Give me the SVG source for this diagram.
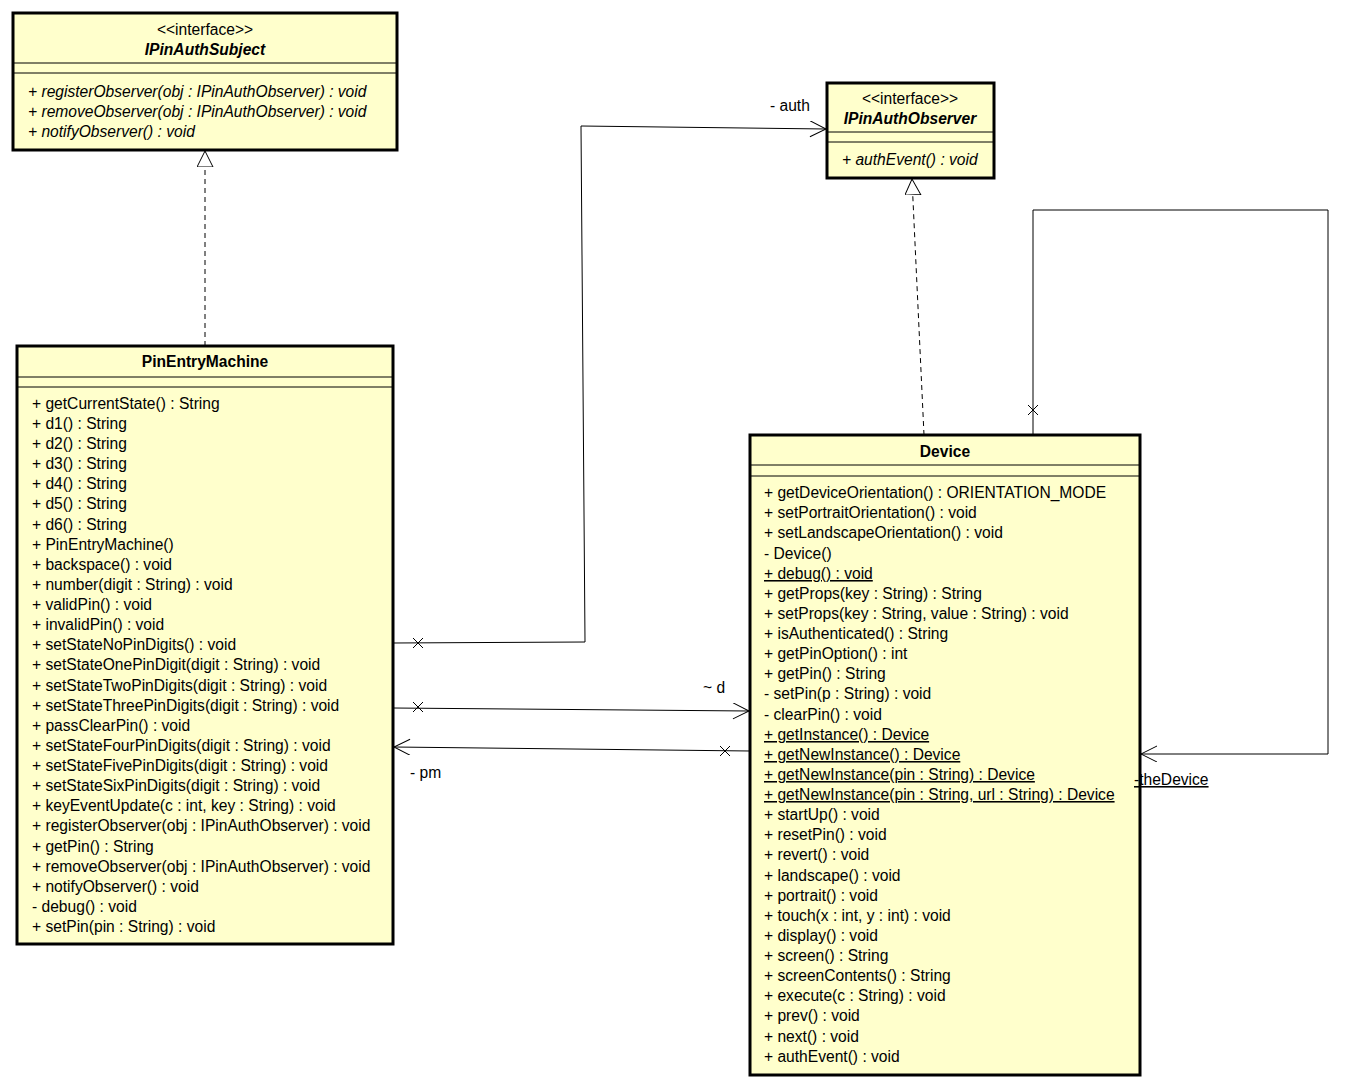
<svg xmlns="http://www.w3.org/2000/svg" width="1349" height="1088" viewBox="0 0 1349 1088">
<style>
.box{fill:#ffffcc;stroke:#000;stroke-width:3}
.sep{stroke:#000;stroke-width:1}
text{font-family:"Liberation Sans",Arial,sans-serif;font-size:15.6px;fill:#000}
.c{text-anchor:middle}
.b{font-weight:bold}
.i{font-style:italic}
.u{text-decoration:underline}
.ln{fill:none;stroke:#000;stroke-width:1}
.d{stroke-dasharray:5,4}
</style>
<defs>
<marker id="open" markerWidth="20" markerHeight="20" refX="18" refY="8" orient="auto" markerUnits="userSpaceOnUse">
<path d="M2,0 L18,8 L2,16" fill="none" stroke="#000" stroke-width="1"/>
</marker>
<marker id="tri" markerWidth="20" markerHeight="20" refX="16" refY="8" orient="auto" markerUnits="userSpaceOnUse">
<path d="M0,0 L16,8 L0,16 Z" fill="#fff" stroke="#000" stroke-width="1"/>
</marker>
</defs>

<g id="connectors">
<path class="ln d" d="M205,346 L205,151" marker-end="url(#tri)"/>
<path class="ln d" d="M924,435 L912,179" marker-end="url(#tri)"/>
<path class="ln" d="M393,643 L585,642 L581,126 L826,129" marker-end="url(#open)"/>
<path class="ln" d="M413,638 L423,648 M423,638 L413,648"/>
<text x="770" y="111">- auth</text>
<path class="ln" d="M393,708 L749,711" marker-end="url(#open)"/>
<path class="ln" d="M413,702 L423,712 M423,702 L413,712"/>
<text x="703" y="693">~ d</text>
<path class="ln" d="M750,751 L394,747" marker-end="url(#open)"/>
<path class="ln" d="M720,746 L730,756 M730,746 L720,756"/>
<text x="410" y="778">- pm</text>
<path class="ln" d="M1033,435 L1033,210 L1328,210 L1328,754 L1141,754" marker-end="url(#open)"/>
<path class="ln" d="M1028,405 L1038,415 M1038,405 L1028,415"/>
</g>

<g id="IPinAuthSubject">
<rect class="box" x="13" y="13" width="384" height="137"/>
<text x="205" y="35" class="c">&lt;&lt;interface&gt;&gt;</text>
<text x="205" y="55" class="c b i">IPinAuthSubject</text>
<line class="sep" x1="13" y1="63" x2="397" y2="63"/>
<line class="sep" x1="13" y1="73" x2="397" y2="73"/>
<text x="28" y="97" class="i">+ registerObserver(obj : IPinAuthObserver) : void</text>
<text x="28" y="117" class="i">+ removeObserver(obj : IPinAuthObserver) : void</text>
<text x="28" y="137" class="i">+ notifyObserver() : void</text>
</g>

<g id="IPinAuthObserver">
<rect class="box" x="827" y="83" width="167" height="95"/>
<text x="910" y="104" class="c">&lt;&lt;interface&gt;&gt;</text>
<text x="910" y="124" class="c b i">IPinAuthObserver</text>
<line class="sep" x1="827" y1="132" x2="994" y2="132"/>
<line class="sep" x1="827" y1="142" x2="994" y2="142"/>
<text x="842" y="165" class="i">+ authEvent() : void</text>
</g>

<g id="PinEntryMachine">
<rect class="box" x="17" y="346" width="376" height="598"/>
<text x="205" y="367" class="c b">PinEntryMachine</text>
<line class="sep" x1="17" y1="377" x2="393" y2="377"/>
<line class="sep" x1="17" y1="387" x2="393" y2="387"/>
<text x="32" y="409">+ getCurrentState() : String</text>
<text x="32" y="429">+ d1() : String</text>
<text x="32" y="449">+ d2() : String</text>
<text x="32" y="469">+ d3() : String</text>
<text x="32" y="489">+ d4() : String</text>
<text x="32" y="509">+ d5() : String</text>
<text x="32" y="530">+ d6() : String</text>
<text x="32" y="550">+ PinEntryMachine()</text>
<text x="32" y="570">+ backspace() : void</text>
<text x="32" y="590">+ number(digit : String) : void</text>
<text x="32" y="610">+ validPin() : void</text>
<text x="32" y="630">+ invalidPin() : void</text>
<text x="32" y="650">+ setStateNoPinDigits() : void</text>
<text x="32" y="670">+ setStateOnePinDigit(digit : String) : void</text>
<text x="32" y="691">+ setStateTwoPinDigits(digit : String) : void</text>
<text x="32" y="711">+ setStateThreePinDigits(digit : String) : void</text>
<text x="32" y="731">+ passClearPin() : void</text>
<text x="32" y="751">+ setStateFourPinDigits(digit : String) : void</text>
<text x="32" y="771">+ setStateFivePinDigits(digit : String) : void</text>
<text x="32" y="791">+ setStateSixPinDigits(digit : String) : void</text>
<text x="32" y="811">+ keyEventUpdate(c : int, key : String) : void</text>
<text x="32" y="831">+ registerObserver(obj : IPinAuthObserver) : void</text>
<text x="32" y="852">+ getPin() : String</text>
<text x="32" y="872">+ removeObserver(obj : IPinAuthObserver) : void</text>
<text x="32" y="892">+ notifyObserver() : void</text>
<text x="32" y="912">- debug() : void</text>
<text x="32" y="932">+ setPin(pin : String) : void</text>
</g>

<g id="Device">
<rect class="box" x="750" y="435" width="390" height="640"/>
<text x="945" y="457" class="c b">Device</text>
<line class="sep" x1="750" y1="465" x2="1140" y2="465"/>
<line class="sep" x1="750" y1="476" x2="1140" y2="476"/>
<text x="764" y="498">+ getDeviceOrientation() : ORIENTATION_MODE</text>
<text x="764" y="518">+ setPortraitOrientation() : void</text>
<text x="764" y="538">+ setLandscapeOrientation() : void</text>
<text x="764" y="559">- Device()</text>
<text x="764" y="579" class="u">+ debug() : void</text>
<text x="764" y="599">+ getProps(key : String) : String</text>
<text x="764" y="619">+ setProps(key : String, value : String) : void</text>
<text x="764" y="639">+ isAuthenticated() : String</text>
<text x="764" y="659">+ getPinOption() : int</text>
<text x="764" y="679">+ getPin() : String</text>
<text x="764" y="699">- setPin(p : String) : void</text>
<text x="764" y="720">- clearPin() : void</text>
<text x="764" y="740" class="u">+ getInstance() : Device</text>
<text x="764" y="760" class="u">+ getNewInstance() : Device</text>
<text x="764" y="780" class="u">+ getNewInstance(pin : String) : Device</text>
<text x="764" y="800" class="u">+ getNewInstance(pin : String, url : String) : Device</text>
<text x="764" y="820">+ startUp() : void</text>
<text x="764" y="840">+ resetPin() : void</text>
<text x="764" y="860">+ revert() : void</text>
<text x="764" y="881">+ landscape() : void</text>
<text x="764" y="901">+ portrait() : void</text>
<text x="764" y="921">+ touch(x : int, y : int) : void</text>
<text x="764" y="941">+ display() : void</text>
<text x="764" y="961">+ screen() : String</text>
<text x="764" y="981">+ screenContents() : String</text>
<text x="764" y="1001">+ execute(c : String) : void</text>
<text x="764" y="1021">+ prev() : void</text>
<text x="764" y="1042">+ next() : void</text>
<text x="764" y="1062">+ authEvent() : void</text>
</g>

<g id="theDevice-label">
<text x="1134" y="785" class="u">-theDevice</text>
</g>
</svg>
